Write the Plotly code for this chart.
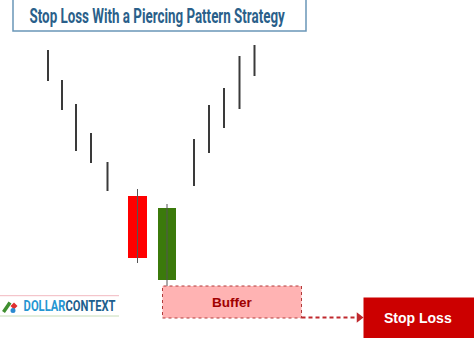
import plotly.graph_objects as go

# ---- data (price units; x = session position) ----
trend_x = [48, 62, 76, 91, 107.5, 194, 209, 224, 239.5, 254.5]
trend_high = [288, 258, 234, 205, 176, 199, 233, 250, 282, 293]
trend_low = [257, 228, 187, 175, 147, 152, 185, 210, 229, 262]

candle_x = [137.5, 167]
candle_open = [142, 58]
candle_close = [80, 130]
candle_high = [149, 134]
candle_low = [75, 52]
candle_colors = ["#ff0000", "#3b7a0b"]

buffer_top = 52      # low of the green candle
stop_level = 20      # stop-loss level
title_text = "Stop Loss With a Piercing Pattern Strategy"

W, H = 474, 338
fig = go.Figure()

# HL bars of the trend
xs, ys = [], []
for x, h, l in zip(trend_x, trend_high, trend_low):
    xs += [x, x, None]
    ys += [h, l, None]
fig.add_trace(go.Scatter(x=xs, y=ys, mode="lines",
                         line=dict(color="#3a3a3a", width=2), hoverinfo="skip"))

# candle wicks
xs, ys = [], []
for x, h, l in zip(candle_x, candle_high, candle_low):
    xs += [x, x, None]
    ys += [h, l, None]
fig.add_trace(go.Scatter(x=xs, y=ys, mode="lines",
                         line=dict(color="#555555", width=1), hoverinfo="skip"))

# candle bodies
for x, o, c, col in zip(candle_x, candle_open, candle_close, candle_colors):
    lo, hi = min(o, c), max(o, c)
    fig.add_trace(go.Bar(x=[x], y=[hi - lo], base=[lo], width=18.5,
                         marker=dict(color=col, line=dict(width=0)),
                         hoverinfo="skip"))

# buffer zone
fig.add_shape(type="rect", x0=162.5, x1=301.5, y0=stop_level, y1=buffer_top,
              xref="x", yref="y", fillcolor="#ffb3b3",
              line=dict(color="#b23a3a", width=1, dash="dot"))
fig.add_annotation(x=232, y=(stop_level + buffer_top) / 2 - 0.5, text="<b>Buffer</b>",
                   showarrow=False, font=dict(family="Liberation Sans, Arial", size=13.5, color="#a00000"))

# dashed arrow to stop loss
fig.add_trace(go.Scatter(x=[301.5, 357], y=[stop_level + 0.5, stop_level + 0.5], mode="lines",
                         line=dict(color="#c0282d", width=2, dash="4px,3px"), hoverinfo="skip"))
fig.add_trace(go.Scatter(x=[359], y=[stop_level + 0.5], mode="markers",
                         marker=dict(symbol="triangle-right", size=9, color="#c0282d"),
                         hoverinfo="skip"))

# stop loss box
fig.add_shape(type="rect", x0=363.5, x1=476, y0=-2, y1=stop_level + 20.5,
              xref="x", yref="y", fillcolor="#cc0000", line=dict(width=0))
fig.add_annotation(x=418, y=stop_level, text="<b>Stop Loss</b>", showarrow=False,
                   font=dict(family="Liberation Sans, Arial", size=14, color="white"))

# title box
fig.add_shape(type="rect", x0=13, x1=306, y0=307, y1=345, xref="x", yref="y",
              fillcolor="white", line=dict(color="#6a96b8", width=1.5))
fig.add_annotation(x=157, y=322, text="<b>" + title_text + "</b>", showarrow=False,
                   font=dict(family="Roboto, sans-serif", size=20, color="#2a5f8a"))

# logo
fig.add_shape(type="line", x0=0, x1=119, y0=42.3, y1=42.3, xref="x", yref="y",
              line=dict(color="#f2b8bf", width=1))
fig.add_shape(type="line", x0=0, x1=119, y0=22, y1=22, xref="x", yref="y",
              line=dict(color="#c8dcb8", width=1))
fig.add_shape(type="line", x0=3.5, x1=10, y0=26, y1=35.5, xref="x", yref="y",
              line=dict(color="#3f8f2f", width=3.5))
fig.add_shape(type="path", path="M 10.5 32 L 14 35.5 L 17.5 32 L 14 28.5 Z", xref="x", yref="y",
              fillcolor="#e03030", line=dict(width=0))
fig.add_shape(type="circle", x0=10.5, x1=15.5, y0=25, y1=30, xref="x", yref="y",
              fillcolor="#2a8ad0", line=dict(width=0))
fig.add_annotation(x=69, y=31.5, showarrow=False,
                   text="<b><span style='color:#2596d2'>DOLLAR</span><span style='color:#1d5f8e'>CONTEXT</span></b>",
                   font=dict(family="Roboto, sans-serif", size=14.5))

fig.update_layout(width=W, height=H, margin=dict(l=0, r=0, t=0, b=0),
                  paper_bgcolor="white", plot_bgcolor="white", showlegend=False,
                  xaxis=dict(range=[0, W], visible=False, fixedrange=True),
                  yaxis=dict(range=[0, H], visible=False, fixedrange=True),
                  bargap=0)

# condense the title and logo text horizontally (the reference uses a condensed face)
post_js = """
var gd = document.getElementById('{plot_id}');
function squeeze(){
  var targets = {'Stop Loss With a Piercing Pattern Strategy': 256, 'DOLLARCONTEXT': 92};
  gd.querySelectorAll('text.annotation-text').forEach(function(t){
    var w = targets[t.textContent];
    if (!w) return;
    t.removeAttribute('transform');
    var b = t.getBBox();
    var s = w / b.width;
    var cx = b.x + b.width / 2;
    t.setAttribute('transform', 'translate(' + cx + ',0) scale(' + s + ',1) translate(' + (-cx) + ',0)');
  });
}
squeeze();
gd.on('plotly_afterplot', squeeze);
"""
fig.write_html("out.html", config={"displayModeBar": False}, post_script=post_js)
